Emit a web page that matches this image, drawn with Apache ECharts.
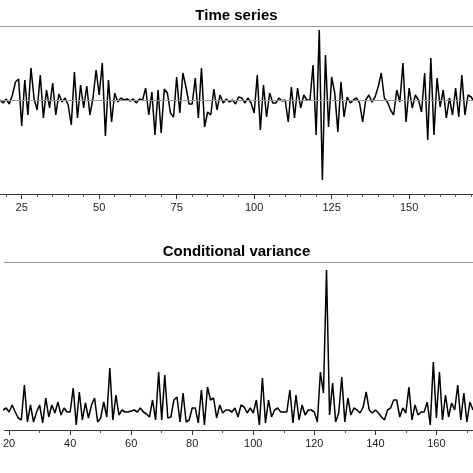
<!DOCTYPE html>
<html><head><meta charset="utf-8">
<script src="https://cdn.jsdelivr.net/npm/echarts@6/dist/echarts.min.js"></script>
<style>html,body{margin:0;padding:0;background:#fff}#c{width:473px;height:473px}</style>
</head><body><div id="c"></div>
<script>
const startT = 18;
const seriesVals = [0,-0.3,0.1,-0.4,0.5,1.8,2.1,-2.6,2.0,-1.5,3.2,0.1,-1.0,2.5,-1.8,1.0,-0.8,1.7,-1.5,0.6,-0.2,0.2,-0.5,-2.5,2.8,-1.8,1.5,-0.8,1.4,-1.5,0.2,3.0,0.5,3.7,-3.6,2.0,-2.2,0.7,-0.2,0.2,0,0.1,-0.1,0.1,-0.3,0.1,0,1.2,-1.5,0.8,-3.5,1.0,-3.3,1.1,0.7,-1.3,-1.7,2.3,-1.3,2.7,1.3,-0.4,-0.4,2.2,-1.8,3.2,-2.7,-1.2,-1.5,1.1,-1.0,0.5,-0.3,0.1,-0.2,0,-0.4,0.3,
0.2,-0.3,0.2,-0.3,-1.3,2.5,-3.0,1.5,-1.7,0.7,-0.3,-0.3,0.2,-0.1,0,-2.2,1.3,-1.8,1.2,-0.8,0.5,0,0,3.5,-3.5,7.0,-8.0,4.5,-2.7,2.3,0.7,-3.2,1.8,-1.7,0.3,-0.3,0,0.2,-0.3,-2.2,0,0.5,-0.2,0.3,1.3,2.7,0.2,-0.2,-1.0,-1.5,1.0,-0.2,3.7,-2.2,1.2,-0.8,0.5,0,-1.2,2.7,-4.0,4.2,-3.5,2.2,-0.7,1.0,-1.8,0.2,-1.5,1.2,-1.7,2.5,-1.5,0.5,0.3,-0.2,0.1];
const varianceVals = [20,22,18,25,18,12,10,45,8,25,8,18,25,7,32,13,25,17,28,15,22,18,18,42,5,38,10,27,12,25,32,8,12,28,13,62,10,35,15,20,18,18,19,20,18,22,18,16,13,30,10,58,10,55,12,13,30,33,8,37,8,10,22,22,7,40,5,43,30,32,12,25,17,20,20,18,22,13,25,
23,17,22,17,30,5,52,7,30,13,20,22,18,18,18,40,7,35,10,25,15,20,20,18,8,58,37,160,15,47,8,17,53,8,32,15,22,20,17,23,38,20,17,20,17,13,10,20,22,30,30,13,22,17,43,10,25,15,18,18,28,5,68,12,58,10,35,13,27,20,45,10,37,8,28,20];
const topTicks = [25,50,75,100,125,150];
const topMinor = [20,30,35,40,45,55,60,65,70,80,85,90,95,105,110,115,120,130,135,140,145,155,160,165,170];
const botTicks = [20,40,60,80,100,120,140,160];
const botMinor = [30,50,70,90,110,130,150,170];

const s1 = seriesVals.map((v,i)=>[startT+i,v]);
const s2 = varianceVals.map((v,i)=>[startT+i,v]);
const font = 'Liberation Sans';
const X = [[18,170.6],[18.4,172]];
function major(grid,ticks){
  return {type:'value',gridIndex:grid,min:X[grid][0],max:X[grid][1],position:'bottom',
    axisLine:{show:true,onZero:false,lineStyle:{color:'#333',width:1}},
    axisTick:{show:true,length:5,customValues:ticks,lineStyle:{color:'#333'}},
    axisLabel:{show:true,customValues:ticks,color:'#222',fontFamily:font,fontSize:11,margin:8},
    splitLine:{show:false}};
}
function minor(grid,ticks){
  return {type:'value',gridIndex:grid,min:X[grid][0],max:X[grid][1],position:'bottom',offset:0,
    axisLine:{show:false,onZero:false},
    axisTick:{show:true,length:3,customValues:ticks,lineStyle:{color:'#555'}},
    axisLabel:{show:false},splitLine:{show:false}};
}
function topLine(grid){
  return {type:'value',gridIndex:grid,min:X[grid][0],max:X[grid][1],position:'top',
    axisLine:{show:true,onZero:false,lineStyle:{color:'#999',width:1}},
    axisTick:{show:false},axisLabel:{show:false},splitLine:{show:false}};
}
const chart = echarts.init(document.getElementById('c'));
chart.setOption({
  animation:false,
  title:[
    {text:'Time series',left:'center',top:3,textStyle:{fontFamily:font,fontSize:15,fontWeight:'bold',color:'#000'}},
    {text:'Conditional variance',left:'center',top:239,textStyle:{fontFamily:font,fontSize:15,fontWeight:'bold',color:'#000'}}
  ],
  grid:[{left:0,right:0,top:26,height:168},{left:0,right:0,top:262,height:168}],
  xAxis:[major(0,topTicks),major(1,botTicks),topLine(0),topLine(1),minor(0,topMinor),minor(1,botMinor)],
  yAxis:[
    {type:'value',gridIndex:0,min:-9.4,max:7.4,show:false,splitLine:{show:false}},
    {type:'value',gridIndex:1,min:0,max:168,show:false,splitLine:{show:false}}
  ],
  series:[
    {type:'line',xAxisIndex:0,yAxisIndex:0,data:s1,symbol:'none',lineStyle:{color:'#000',width:1.5},
     markLine:{silent:true,symbol:'none',label:{show:false},lineStyle:{color:'#999',width:1,type:'solid'},data:[{yAxis:0}]}},
    {type:'line',xAxisIndex:1,yAxisIndex:1,data:s2,symbol:'none',lineStyle:{color:'#000',width:1.5}}
  ]
});
</script></body></html>
